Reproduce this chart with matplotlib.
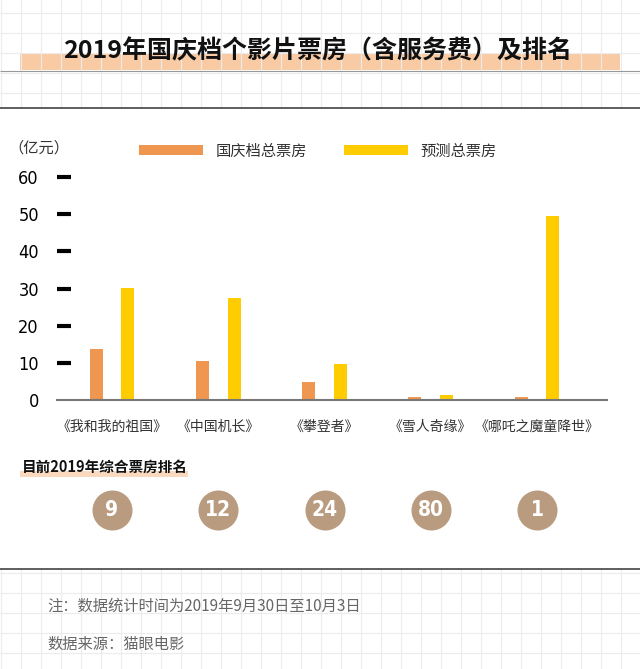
import matplotlib
matplotlib.use('Agg')
import matplotlib.pyplot as plt
import matplotlib.transforms as mtrans
from matplotlib import font_manager
from matplotlib.patches import Rectangle
import numpy as np

CJK = ['Noto Sans CJK SC', 'DejaVu Sans']
plt.rcParams['font.family'] = CJK
_names = {f.name for f in font_manager.fontManager.ttflist}
NARROW = 'Liberation Sans Narrow' if 'Liberation Sans Narrow' in _names else 'DejaVu Sans'

# ---- data ----
films = ['《我和我的祖国》', '《中国机长》', '《攀登者》', '《雪人奇缘》', '《哪吒之魔童降世》']
holiday_box = [13.7, 10.6, 4.9, 0.9, 0.9]      # 国庆档总票房 (亿元)
forecast_box = [30.1, 27.4, 9.7, 1.4, 49.6]    # 预测总票房 (亿元)
rank_2019 = [9, 12, 24, 80, 1]
yticks = [0, 10, 20, 30, 40, 50, 60]

ORANGE = '#EF9650'; YELLOW = '#FFCC00'; TAN = '#B99B80'
W, H = 640, 669
fig = plt.figure(figsize=(W/100, H/100), dpi=100)

# background: grid paper strips, rules, title bar
bg = fig.add_axes([0, 0, 1, 1], zorder=0)
bg.set_xlim(0, W); bg.set_ylim(H, 0); bg.axis('off')
for y0, y1 in [(0, 108), (569, H)]:
    for gx in range(1, W, 20):
        bg.vlines(gx, y0, y1, color='#ececec', lw=0.8)
    for gy in range(13, H, 20):
        if y0 <= gy <= y1:
            bg.hlines(gy, 0, W, color='#ececec', lw=0.8)
bg.add_patch(Rectangle((20, 54), 600, 16, color='#F9CBA5', lw=0))
bg.hlines(70.5, 0, W, color='#999999', lw=0.8)
bg.hlines(108, 0, W, color='#444444', lw=1.2)
bg.hlines(569, 0, W, color='#444444', lw=1.2)
bg.text(318, 51, '2019年国庆档个影片票房（含服务费）及排名', ha='center', va='center',
        fontsize=18, fontweight='bold', color='#111111')
bg.text(8, 148, '（亿元）', ha='left', va='center', fontsize=11, color='#333333')

# ranking heading + notes
bg.add_patch(Rectangle((20, 471), 168, 6, color='#FAD9BE', lw=0))
bg.text(22, 467, '目前2019年综合票房排名', ha='left', va='center', fontsize=10.5,
        fontweight='bold', color='#111111')
bg.text(47, 606, '注：数据统计时间为2019年9月30日至10月3日', ha='left', va='center',
        fontsize=11, color='#666666')
bg.text(47, 644, '数据来源：猫眼电影', ha='left', va='center', fontsize=11, color='#666666')

# main bar chart
ax = fig.add_axes([57/W, 1-400/H, 550/W, 223/H], zorder=2)
ax.patch.set_alpha(0)
x = np.arange(len(films))
bw, off = 0.122, 0.15
ax.bar(x-off, holiday_box, bw, color=ORANGE, label='国庆档总票房')
ax.bar(x+off, forecast_box, bw, color=YELLOW, label='预测总票房')
ax.set_xlim(-0.518, 4.659); ax.set_ylim(0, 60)
for s in ['left', 'right', 'top']:
    ax.spines[s].set_visible(False)
ax.spines['bottom'].set_color('#777777'); ax.spines['bottom'].set_linewidth(1.5)
ax.set_yticks(yticks)
ax.set_yticklabels([str(v) for v in yticks], family=NARROW, fontstretch='condensed', fontsize=13)
ax.tick_params(axis='y', direction='in', length=10, width=3, color='black', pad=13)
ax.yaxis.get_major_ticks()[0].tick1line.set_visible(False)
ax.set_xticks(x)
ax.set_xticklabels(films, fontsize=10, color='#333333')
ax.tick_params(axis='x', length=0, pad=14)

fig.legend(loc='center left', bbox_to_anchor=(139/W, 1-151/H), ncol=2, frameon=False,
           borderpad=0, borderaxespad=0, handlelength=4.2, handleheight=0.65,
           handletextpad=0.8, columnspacing=2.4, prop={'size': 11},
           labelcolor='#333333')

# ranking circles aligned to the film columns
tr = mtrans.blended_transform_factory(ax.transData, fig.transFigure)
cy = 1 - 510/H
ax.scatter(x, [cy]*len(x), s=830, color=TAN, transform=tr, clip_on=False, zorder=3, lw=0)
for xi, r in zip(x, rank_2019):
    ax.text(xi, cy, str(r), transform=tr, ha='center', va='center', color='white',
            fontsize=15, fontweight='bold', family=NARROW, fontstretch='condensed', zorder=4)

fig.savefig('out.png', dpi=100)
